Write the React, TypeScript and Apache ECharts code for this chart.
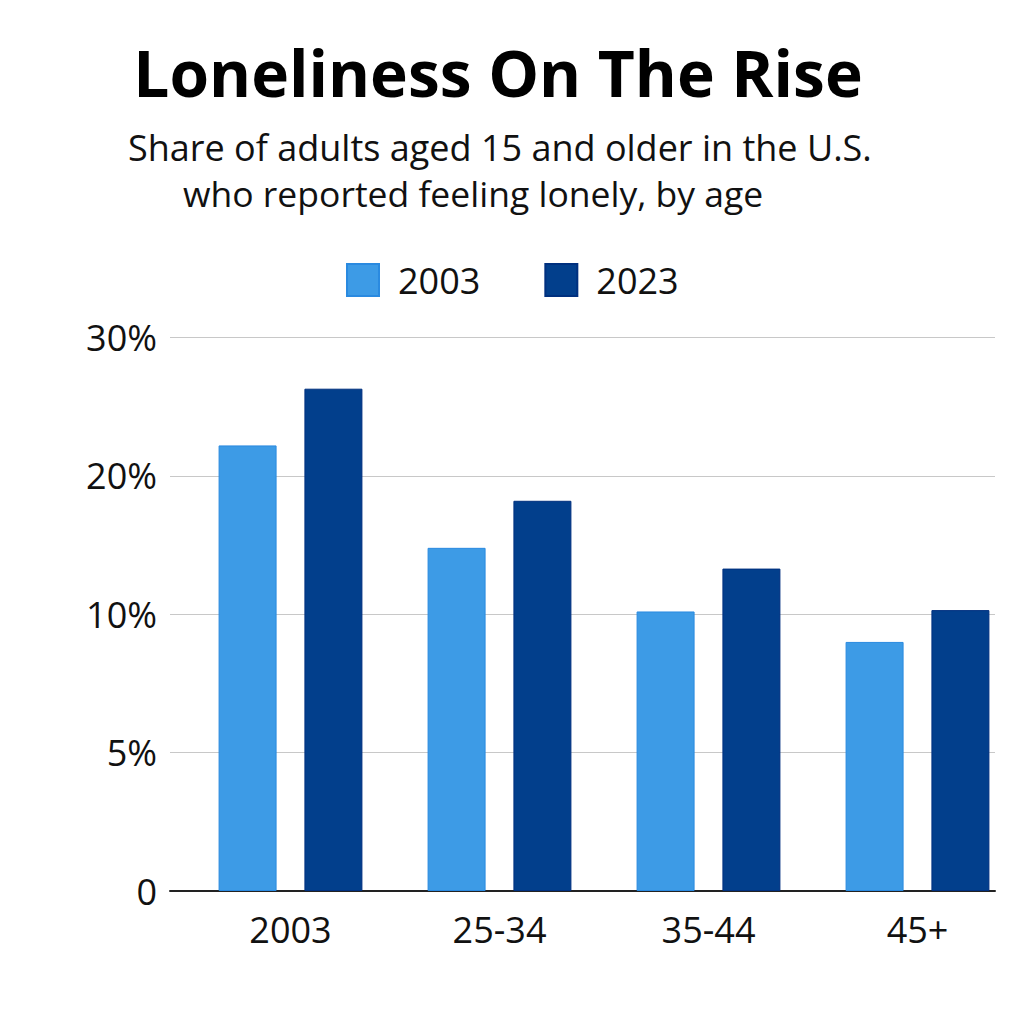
import React, { useEffect, useRef } from "react";
import * as echarts from "echarts";

// Age groups along the x axis
const categories = ["2003", "25-34", "35-44", "45+"];
// Share reporting loneliness, percent
const values2003 = [22.2, 14.8, 10.2, 9.0];
const values2023 = [26.3, 18.2, 13.3, 10.3];
// The y axis places these tick values at evenly spaced gridlines
const tickValues = [0, 5, 10, 20, 30];
const tickLabels = ["0", "5%", "10%", "20%", "30%"];

const seriesNames = ["2003", "2023"];
const colors = ["#3d9be6", "#023f8c"];
const borderColors = ["#2a8ae0", "#00307f"];

// Map a percentage onto the piecewise-linear tick scale (one unit per gridline)
function toTickScale(v: number): number {
  for (let i = 0; i < tickValues.length - 1; i++) {
    const a = tickValues[i];
    const b = tickValues[i + 1];
    if (v <= b) return i + (v - a) / (b - a);
  }
  return tickValues.length - 1;
}

const FONT = '"Open Sans", "Noto Sans", sans-serif';

export default function App() {
  const ref = useRef<HTMLDivElement>(null);

  useEffect(() => {
    document.body.style.margin = "0";
    if (!ref.current) return;
    const chart = echarts.init(ref.current, undefined, { renderer: "svg" });
    const maxTick = tickValues.length - 1;

    chart.setOption({
      animation: false,
      backgroundColor: "#ffffff",
      textStyle: { fontFamily: FONT },
      graphic: [
        {
          type: "text",
          x: 498,
          y: 72,
          style: {
            text: "Loneliness On The Rise",
            font: `bold 64px ${FONT}`,
            fill: "#000",
            textAlign: "center",
            textVerticalAlign: "middle",
          },
        },
        {
          type: "text",
          x: 128,
          y: 147,
          style: {
            text: "Share of adults aged 15 and older in the U.S.",
            font: `36px ${FONT}`,
            lineHeight: 40,
            fill: "#111",
            textAlign: "left",
            textVerticalAlign: "middle",
          },
        },
        {
          type: "text",
          x: 183,
          y: 193,
          style: {
            text: "who reported feeling lonely, by age",
            font: `35.5px ${FONT}`,
            lineHeight: 40,
            fill: "#111",
            textAlign: "left",
            textVerticalAlign: "middle",
          },
        },
      ],
      legend: {
        left: 346,
        top: 262,
        padding: 0,
        itemWidth: 32,
        itemHeight: 32,
        itemGap: 64,
        icon: "rect",
        data: seriesNames,
        textStyle: {
          fontSize: 36,
          color: "#111",
          fontFamily: FONT,
          padding: [0, 0, 0, 14],
        },
      },
      grid: [
        { left: 170, right: 29, top: 337.5, bottom: 133 },
        { left: 186, width: 836, top: 337.5, bottom: 133 },
      ],
      xAxis: [
        {
          gridIndex: 0,
          type: "category",
          data: categories,
          axisLine: { show: true, lineStyle: { color: "#222", width: 2 } },
          axisTick: { show: false },
          axisLabel: { show: false },
        },
        {
          gridIndex: 1,
          type: "category",
          data: categories,
          axisLine: { show: false },
          axisTick: { show: false },
          axisLabel: {
            fontSize: 36,
            color: "#111",
            fontFamily: FONT,
            margin: 20,
          },
        },
      ],
      yAxis: [
        {
          gridIndex: 0,
          type: "value",
          min: 0,
          max: maxTick,
          interval: 1,
          axisLine: { show: false },
          axisTick: { show: false },
          splitLine: { lineStyle: { color: "#c8c8c8", width: 1 } },
          axisLabel: {
            fontSize: 36,
            color: "#111",
            fontFamily: FONT,
            margin: 13,
            formatter: (v: number) => tickLabels[Math.round(v)] ?? "",
          },
        },
        {
          gridIndex: 1,
          type: "value",
          min: 0,
          max: maxTick,
          interval: 1,
          show: false,
          splitLine: { show: false },
        },
      ],
      series: [values2003, values2023].map((vals, i) => ({
        name: seriesNames[i],
        type: "bar",
        xAxisIndex: 1,
        yAxisIndex: 1,
        barWidth: 58,
        barGap: "48%",
        data: vals.map(toTickScale),
        itemStyle: {
          color: colors[i],
          borderColor: borderColors[i],
          borderWidth: 1,
        },
      })),
    });

    return () => chart.dispose();
  }, []);

  return <div ref={ref} style={{ width: 1024, height: 1024 }} />;
}
